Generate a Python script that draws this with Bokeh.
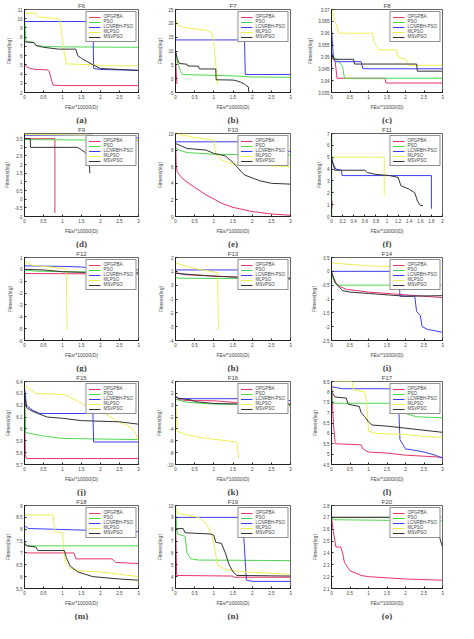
from bokeh.plotting import figure
from bokeh.layouts import gridplot
from bokeh.models import Range1d, FixedTicker, Title, Label, Legend, LegendItem
from bokeh.embed import file_html
from bokeh.resources import INLINE

NAMES = ["OPGPBA", "PSO", "LCNRBH-PSO", "MLPSO", "MSVPSO"]
COLORS = ["#e8336b", "#4fd84f", "#3d3df2", "#eeee55", "#333333"]

# ---- data: (FEs x1e5, fitness) breakpoints ----
f6_opgpba = [(0,5.2),(0.05,4.8),(0.15,4.6),(0.3,4.5),(0.6,4.45),(0.65,4.3),(0.7,3.5),(0.75,2.8),(1.0,2.75),(3,2.75)]
f6_pso = [(0,10.0),(0.04,7.6),(0.1,7.5),(0.25,7.45),(0.3,7.1),(0.5,7.0),(1.0,6.95),(3,6.9)]
f6_lcn = [(0,9.7),(1.8,9.7),(1.82,4.6),(2.0,4.5),(3,4.4)]
f6_ml = [(0,10.8),(0.05,10.6),(0.3,10.6),(0.35,10.2),(0.9,10.0),(0.95,9.5),(1.02,7.0),(1.1,5.1),(1.9,5.0),(2.0,4.9),(3,4.9)]
f6_msv = [(0,7.5),(0.25,7.4),(0.3,7.1),(0.5,6.9),(0.9,6.7),(1.35,6.7),(1.4,6.0),(1.5,5.7),(1.8,5.0),(2.0,4.6),(2.5,4.5),(3,4.4)]

f7_opgpba = [(0,8),(0.01,5),(0.02,2),(0.03,-1),(0.04,-2)]
f7_pso = [(0,10),(0.05,6),(0.1,4),(0.15,2),(0.2,1.5),(1.0,1.2),(1.5,1.0),(2.0,0.6),(3,0.5)]
f7_lcn = [(0,14),(1.8,14),(1.82,1.5),(3,1.5)]
f7_ml = [(0,22),(0.05,19.5),(0.2,18.5),(0.5,18),(0.8,17.5),(0.95,16.5),(1.0,13),(1.05,5),(1.1,-2)]
f7_msv = [(0,10),(0.05,7),(0.1,5.5),(0.3,5.2),(0.32,4.6),(0.6,4.5),(0.62,3.5),(1.05,3.5),(1.06,-0.4),(1.5,-0.5),(1.6,-0.8),(1.7,-1.3),(1.8,-2.0),(1.9,-3.0),(1.92,-5.5)]

f8_opgpba = [(0,3.050),(0.1,3.048),(0.15,3.041),(1.45,3.041),(1.47,3.039),(3,3.039)]
f8_pso = [(0,3.051),(0.2,3.048),(0.3,3.046),(0.35,3.041),(3,3.041)]
f8_lcn = [(0,3.062),(0.05,3.050),(0.1,3.048),(0.8,3.048),(0.85,3.045),(3,3.045)]
f8_ml = [(0,3.070),(0.1,3.065),(0.2,3.060),(1.1,3.060),(1.15,3.056),(1.3,3.053),(1.75,3.053),(1.8,3.050),(2.0,3.049),(2.1,3.0465),(3,3.0465)]
f8_msv = [(0,3.052),(0.05,3.049),(0.6,3.049),(0.62,3.047),(2.3,3.047),(2.32,3.044),(3,3.044)]

f9_opgpba = [(0,3.5),(0.8,3.5),(0.8,-0.8)]
f9_pso = [(0,3.45),(3,3.4)]
f9_lcn = [(0,3.7),(1.8,3.7),(1.82,3.6),(2.0,3.6),(2.02,3.55),(3,3.55)]
f9_ml = [(0,3.8),(0.05,3.75),(1.8,3.7),(2.0,3.5),(3,3.45)]
f9_msv = [(0,3.5),(0.15,3.5),(0.16,3.0),(1.4,3.0),(1.5,2.85),(1.6,2.7),(1.65,2.5),(1.7,2.4),(1.72,1.5)]

f10_opgpba = [(0,9.0),(0.02,6.0),(0.05,5.3),(0.2,4.5),(0.5,3.5),(0.8,2.6),(1.2,1.6),(1.5,1.1),(2.0,0.6),(2.5,0.3),(3,0.15)]
f10_pso = [(0,8.3),(0.1,8.0),(0.3,7.7),(1.0,7.5),(3,7.4)]
f10_lcn = [(0,9.0),(1.8,9.0),(2.3,8.5),(3,7.8)]
f10_ml = [(0,10.0),(0.5,9.5),(1.0,9.2),(1.05,7.5),(1.2,6.8),(1.5,6.3),(2.0,6.2),(3,6.0)]
f10_msv = [(0,8.8),(0.3,8.2),(0.8,8.0),(1.0,7.6),(1.3,7.3),(1.5,6.5),(1.8,5.0),(2.2,4.3),(2.5,4.0),(3,3.9)]

f11_opgpba = [(0.01,1.3),(0.01,0.7)]
f11_pso = [(0.005,7),(0.005,0)]
f11_lcn = [(0,5.0),(0.03,4.4),(0.08,4.0),(0.18,3.9),(0.19,3.45),(1.8,3.45),(1.8,0.65)]
f11_ml = [(0,5.0),(0.95,5.0),(0.95,1.8)]
f11_msv = [(0,5.0),(0.02,4.6),(0.06,3.9),(0.6,3.9),(0.65,3.7),(0.8,3.55),(1.05,3.45),(1.2,3.3),(1.25,2.6),(1.4,2.3),(1.5,2.0),(1.55,1.3),(1.6,0.95),(1.65,0.9)]

f12_opgpba = [(0,-0.35),(3,-0.4)]
f12_pso = [(0,-0.05),(0.3,-0.15),(1.0,-0.2),(3,-0.25)]
f12_lcn = [(0,0.3),(1.0,0.25),(1.5,0.2),(2.0,0.0),(3,-0.05)]
f12_ml = [(0,0.65),(0.2,0.35),(0.5,0.25),(0.8,0.15),(1.1,0.05),(1.12,-5.1)]
f12_msv = [(0,0.0),(0.5,-0.05),(1.0,-0.2),(2.0,-0.3),(3,-0.3)]

f13_opgpba = [(0,0.9),(0.3,0.75),(1.5,0.6),(3,0.5)]
f13_pso = [(0,0.55),(0.1,0.5),(3,0.45)]
f13_lcn = [(0,1.1),(1.83,1.1),(1.85,0.5),(3,0.5)]
f13_ml = [(0,1.6),(0.3,1.35),(0.6,1.15),(0.9,1.0),(1.1,0.9),(1.12,-3.2)]
f13_msv = [(0,0.85),(0.5,0.75),(1.0,0.65),(1.8,0.55),(3,0.45)]

f14_opgpba = [(0,-0.1),(0.15,-0.5),(0.4,-0.65),(1.0,-0.75),(2.0,-0.85),(3,-0.95)]
f14_pso = [(0,-0.1),(0.1,-0.45),(0.2,-0.5),(3,-0.5)]
f14_lcn = [(0,0.0),(1.82,0.0),(1.85,-0.9),(2.25,-0.9),(2.3,-1.45),(2.4,-1.6),(2.45,-2.0),(2.6,-2.1),(3,-2.2)]
f14_ml = [(0,0.3),(0.5,0.25),(1.0,0.2),(2.0,0.15),(3,0.1)]
f14_msv = [(0,0.0),(0.1,-0.4),(0.2,-0.55),(0.3,-0.7),(0.5,-0.75),(1.0,-0.8),(1.5,-0.85),(2.0,-0.9),(3,-0.88)]

f15_opgpba = [(0,6.3),(0.02,5.78),(0.05,5.75),(3,5.75)]
f15_pso = [(0,6.35),(0.03,5.97),(0.5,5.94),(1.0,5.92),(3,5.91)]
f15_lcn = [(0,6.35),(0.05,6.2),(0.2,6.16),(0.4,6.13),(1.8,6.13),(1.82,5.89),(3,5.89)]
f15_ml = [(0,6.37),(0.1,6.34),(0.3,6.3),(1.05,6.29),(1.3,6.25),(1.6,6.2),(2.0,6.16),(2.4,6.07),(2.7,6.03),(2.9,5.98),(3,5.9)]
f15_msv = [(0,6.3),(0.05,6.18),(0.2,6.15),(0.35,6.13),(0.6,6.1),(1.0,6.09),(1.5,6.07),(2.5,6.06),(3,6.04)]

f16_opgpba = [(0,1.0),(0.3,0.8),(1.0,0.75),(1.5,0.5),(3,0.2)]
f16_pso = [(0,1.0),(0.3,0.5),(0.5,0.4),(1.0,0.2),(2.0,0.1),(3,0.0)]
f16_lcn = [(0,1.4),(0.1,1.1),(1.7,1.1),(1.8,0.8),(3,0.8)]
f16_ml = [(0,1.0),(0.05,-4.4),(0.3,-5.0),(0.7,-5.5),(1.2,-5.9),(1.6,-6.2),(1.65,-9.0)]
f16_msv = [(0,1.6),(0.05,1.2),(0.4,0.9),(0.5,0.6),(1.0,0.3),(2.0,0.15),(3,0.1)]

f17_opgpba = [(0,8.5),(0.05,6.5),(0.1,5.5),(0.8,5.45),(0.85,5.25),(1.0,5.1),(1.5,5.05),(2.0,4.95),(2.5,4.9),(3,4.85)]
f17_pso = [(0,7.8),(0.05,7.45),(2.0,7.45),(2.02,6.95),(2.3,6.8),(3,6.75)]
f17_lcn = [(0,8.25),(0.3,8.15),(1.8,8.15),(1.85,5.7),(2.0,5.25),(2.2,5.2),(2.5,5.1),(2.8,4.95),(3,4.8)]
f17_ml = [(0.05,8.5),(0.55,8.5),(0.6,8.1),(0.9,8.0),(0.95,7.5),(1.0,6.1),(1.2,6.0),(2.0,5.95),(2.5,5.85),(3,5.8)]
f17_msv = [(0,8.0),(0.1,7.75),(0.4,7.7),(0.45,7.4),(0.75,7.3),(0.8,7.0),(0.9,6.8),(1.0,6.55),(1.1,6.4),(1.5,6.35),(2.0,6.25),(2.5,6.15),(3,6.05)]

f18_opgpba = [(0,7.05),(0.05,7.0),(1.3,7.0),(1.35,6.75),(2.3,6.75),(2.4,6.6),(3,6.55)]
f18_pso = [(0,7.5),(0.05,7.3),(3,7.3)]
f18_lcn = [(0,8.15),(0.1,8.03),(1.8,7.95),(1.85,7.9),(3,7.9)]
f18_ml = [(0,8.6),(0.75,8.6),(0.8,7.9),(1.0,7.85),(1.05,6.8),(1.1,6.5),(1.2,6.35),(1.4,6.25),(2.0,6.2),(2.5,6.1),(3,6.0)]
f18_msv = [(0,7.4),(0.05,7.3),(0.3,7.25),(0.35,7.1),(1.05,7.1),(1.1,6.8),(1.2,6.45),(1.4,6.2),(1.6,6.1),(1.8,6.0),(2.5,5.9),(3,5.85)]

f19_opgpba = [(0,9.0),(0.03,4.1),(1.5,4.05),(1.52,3.95),(3,3.95)]
f19_pso = [(0,9.5),(0.05,7.6),(0.25,7.4),(0.3,6.0),(0.4,5.5),(0.6,5.4),(3,5.35)]
f19_lcn = [(0,9.0),(1.75,9.0),(1.85,3.7),(2.0,3.6),(3,3.6)]
f19_ml = [(0,9.9),(0.05,9.35),(0.3,9.2),(0.6,9.0),(0.8,8.5),(0.95,7.5),(1.05,5.9),(1.1,5.0),(1.3,4.6),(1.8,4.4),(3,4.2)]
f19_msv = [(0.02,8.05),(0.2,8.05),(0.25,7.7),(0.9,7.6),(1.0,7.5),(1.05,6.9),(1.2,6.8),(1.3,6.0),(1.4,5.0),(1.5,4.4),(1.6,4.1),(3,4.05)]

f20_opgpba = [(0,2.7),(0.05,2.58),(0.12,2.45),(0.25,2.45),(0.3,2.4),(0.35,2.32),(0.5,2.25),(0.8,2.21),(1.0,2.2),(2.0,2.18),(3,2.17)]
f20_pso = [(0,2.7),(0.05,2.68),(3,2.67)]
f20_lcn = [(0,2.7),(3,2.7)]
f20_ml = [(0,2.7),(3,2.7)]
f20_msv = [(0,2.7),(1.9,2.7),(1.95,2.68),(2.7,2.68),(2.8,2.63),(2.9,2.56),(2.95,2.5),(3,2.45)]

TITLES = ["F6","F7","F8","F9","F10","F11","F12","F13","F14","F15","F16","F17","F18","F19","F20"]
CAPTIONS = ["(a)","(b)","(c)","(d)","(e)","(f)","(g)","(h)","(i)","(j)","(k)","(l)","(m)","(n)","(o)"]
X_MAX = [3,3,3,3,3,2,3,3,3,3,3,3,3,3,3]
Y_RANGES = [(2,11),(-5,25),(3.035,3.07),(-1,3.8),(0,10),(0,7),(-6,1),(-4,2),(-2.5,0.5),
            (5.7,6.4),(-10,4),(4.5,8.5),(5.5,9),(3,10),(2.1,2.8)]
Y_STEPS = [1,5,0.005,0.5,2,1,1,1,0.5,0.1,2,0.5,0.5,1,0.1]
SERIES = [
    [f6_opgpba,f6_pso,f6_lcn,f6_ml,f6_msv],
    [f7_opgpba,f7_pso,f7_lcn,f7_ml,f7_msv],
    [f8_opgpba,f8_pso,f8_lcn,f8_ml,f8_msv],
    [f9_opgpba,f9_pso,f9_lcn,f9_ml,f9_msv],
    [f10_opgpba,f10_pso,f10_lcn,f10_ml,f10_msv],
    [f11_opgpba,f11_pso,f11_lcn,f11_ml,f11_msv],
    [f12_opgpba,f12_pso,f12_lcn,f12_ml,f12_msv],
    [f13_opgpba,f13_pso,f13_lcn,f13_ml,f13_msv],
    [f14_opgpba,f14_pso,f14_lcn,f14_ml,f14_msv],
    [f15_opgpba,f15_pso,f15_lcn,f15_ml,f15_msv],
    [f16_opgpba,f16_pso,f16_lcn,f16_ml,f16_msv],
    [f17_opgpba,f17_pso,f17_lcn,f17_ml,f17_msv],
    [f18_opgpba,f18_pso,f18_lcn,f18_ml,f18_msv],
    [f19_opgpba,f19_pso,f19_lcn,f19_ml,f19_msv],
    [f20_opgpba,f20_pso,f20_lcn,f20_ml,f20_msv],
]

FONT = "Liberation Sans"

def fmt(v):
    s = ("%.4f" % v).rstrip("0").rstrip(".")
    return "0" if s in ("-0", "") else s

def make_panel(i):
    xmax = X_MAX[i]
    y0, y1 = Y_RANGES[i]
    st = Y_STEPS[i]
    p = figure(width=152, height=124, output_backend="svg", toolbar_location=None,
               x_range=Range1d(0, xmax), y_range=Range1d(y0, y1),
               min_border_left=4, min_border_right=14, min_border_top=2, min_border_bottom=0)
    p.title.text = TITLES[i]
    p.title.text_font = FONT
    p.title.text_font_size = "6px"
    p.title.text_font_style = "normal"
    p.title.align = "center"
    p.title.standoff = 1
    p.outline_line_color = "#222222"
    p.outline_line_width = 0.7
    p.grid.visible = False
    xstep = 0.5 if xmax == 3 else 0.2
    xt = [round(k * xstep, 3) for k in range(int(round(xmax / xstep)) + 1)]
    n = int(round((y1 - y0) / st))
    yt = [round(y0 + k * st, 4) for k in range(n + 1)]
    p.xaxis.ticker = FixedTicker(ticks=xt)
    p.yaxis.ticker = FixedTicker(ticks=yt)
    p.xaxis.major_label_overrides = {t: fmt(t) for t in xt}
    p.yaxis.major_label_overrides = {t: fmt(t) for t in yt}
    for ax in (p.xaxis, p.yaxis):
        ax.major_label_text_font = FONT
        ax.major_label_text_font_size = "4.5px"
        ax.axis_label_text_font = FONT
        ax.axis_label_text_font_size = "5px"
        ax.axis_label_text_font_style = "normal"
        ax.major_tick_in = 2
        ax.major_tick_out = 0
        ax.minor_tick_line_color = None
        ax.axis_line_color = "#222222"
        ax.major_tick_line_color = "#222222"
        ax.major_label_standoff = 2
        ax.axis_label_standoff = 2
    p.xaxis.axis_label = "FEs/*10000(D)"
    p.yaxis.axis_label = "Fitness(log)"
    items = []
    for k, pts in enumerate(SERIES[i]):
        xs = [a for a, b in pts]
        ys = [b for a, b in pts]
        r = p.line(xs, ys, line_color=COLORS[k], line_width=1.0)
        items.append(LegendItem(label=NAMES[k], renderers=[r]))
    lg = Legend(items=items, location="top_right", label_text_font=FONT,
                label_text_font_size="4.5px", glyph_width=12, glyph_height=4,
                label_height=4, spacing=0, padding=2, margin=2,
                border_line_color="#222222", border_line_width=0.6,
                background_fill_alpha=1.0, label_standoff=3)
    p.add_layout(lg, "center")
    p.add_layout(Label(x=xmax, y=-13, x_units="data", y_units="screen",
                       text="\u00d710\u2075", text_font=FONT, text_font_size="4.5px",
                       text_align="center", x_offset=2), "center")
    p.add_layout(Title(text=CAPTIONS[i], align="center", text_font="Liberation Serif",
                       text_font_style="bold", text_font_size="9px", standoff=0), "below")
    return p

figs = [make_panel(i) for i in range(15)]
grid = gridplot(figs, ncols=3, toolbar_location=None)
open("out.html", "w").write(file_html(grid, INLINE))
